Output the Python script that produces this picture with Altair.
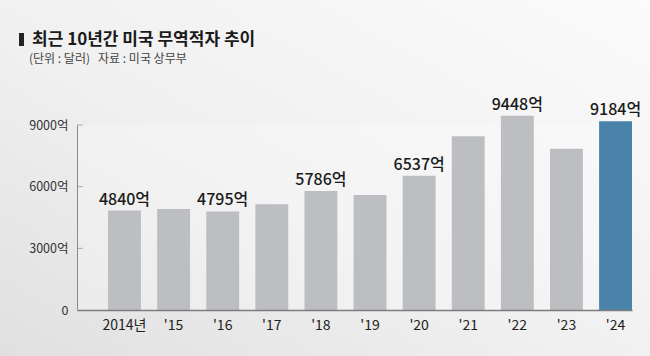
import altair as alt
import pandas as pd

years = ["2014년", "'15", "'16", "'17", "'18", "'19", "'20", "'21", "'22", "'23", "'24"]
values = [4840, 4912, 4795, 5150, 5786, 5590, 6537, 8450, 9448, 7849, 9184]
labels = ["4840억", "", "4795억", "", "5786억", "", "6537억", "", "9448억", "", "9184억"]
highlight = [False] * 10 + [True]
y_ticks = [0, 3000, 6000, 9000]
title_text = "최근 10년간 미국 무역적자 추이"
subtitle_text = "(단위 : 달러)\u00a0\u00a0\u00a0자료 : 미국 상무부"

df = pd.DataFrame({"year": years, "value": values, "label": labels, "hl": highlight})

W, H = 555, 185
LEFT, TOP = 77, 125
FONT = "Noto Sans CJK KR"

xscale = alt.Scale(domain=years, paddingInner=0.33, paddingOuter=0.316, align=1)
yscale = alt.Scale(domain=[0, 9000], nice=False)

one = pd.DataFrame({"a": [0]})

bg = alt.Chart(one).mark_rect(
    color=alt.LinearGradient(
        gradient="linear",
        stops=[alt.GradientStop(color="#e0e0e0", offset=0),
               alt.GradientStop(color="#f0f0f0", offset=0.45),
               alt.GradientStop(color="#fbfbfb", offset=1)],
        x1=0, y1=1, x2=1, y2=0,
    )
).encode(x=alt.value(-LEFT), x2=alt.value(650 - LEFT), y=alt.value(-TOP), y2=alt.value(356 - TOP))

panel = alt.Chart(one).mark_rect(color="white", opacity=0.25).encode(
    x=alt.value(0), x2=alt.value(W), y=alt.value(0), y2=alt.value(H)
)

tick_df = pd.DataFrame({"t": y_ticks[1:]})
ticks = alt.Chart(tick_df).mark_rule(color="#a8a8a8", strokeWidth=1).encode(
    x=alt.value(0), x2=alt.value(6), y=alt.Y("t:Q", scale=yscale)
)

bars = alt.Chart(df).mark_bar().encode(
    x=alt.X("year:N", sort=years, scale=xscale,
            axis=alt.Axis(title=None, labelAngle=0, ticks=False, domainColor="#7d7d7d",
                          domainWidth=1.5, labelFont=FONT, labelFontSize=14,
                          labelColor="#222222", labelPadding=8, zindex=2)),
    y=alt.Y("value:Q", scale=yscale,
            axis=alt.Axis(title=None, values=y_ticks,
                          labelExpr="datum.value == 0 ? '0' : datum.value + '억'",
                          ticks=False, grid=False, domainColor="#8a8a8a", domainWidth=1,
                          labelFont=FONT, labelFontSize=12.5, labelColor="#333333",
                          labelPadding=9, zindex=2)),
    color=alt.condition("datum.hl", alt.value("#4a83aa"), alt.value("#bdbec1")),
)

text = alt.Chart(df).mark_text(
    dy=-6, baseline="alphabetic", font=FONT, fontSize=16, fontWeight=500, color="#1a1a1a"
).encode(
    x=alt.X("year:N", sort=years, scale=xscale),
    y=alt.Y("value:Q", scale=yscale),
    text="label:N",
)

marker = alt.Chart(one).mark_rect(color="#222222").encode(
    x=alt.value(19 - LEFT), x2=alt.value(24 - LEFT), y=alt.value(33 - TOP), y2=alt.value(46 - TOP)
)

title = alt.Chart(pd.DataFrame({"t": [title_text]})).mark_text(
    align="left", baseline="alphabetic", font=FONT, fontSize=17, fontWeight="bold", color="#1a1a1a"
).encode(x=alt.value(32 - LEFT), y=alt.value(45 - TOP), text="t:N")

subtitle = alt.Chart(pd.DataFrame({"t": [subtitle_text]})).mark_text(
    align="left", baseline="middle", font=FONT, fontSize=12, color="#444444"
).encode(x=alt.value(29 - LEFT), y=alt.value(59 - TOP), text="t:N")

chart = alt.layer(bg, panel, ticks, bars, text, marker, title, subtitle).properties(
    width=W, height=H,
    autosize="none",
    padding={"left": LEFT, "top": TOP, "right": 650 - LEFT - W, "bottom": 356 - TOP - H},
    background="#ececec",
).configure_view(stroke=None)

chart.save("out.html", embed_options={"renderer": "svg", "actions": False})
